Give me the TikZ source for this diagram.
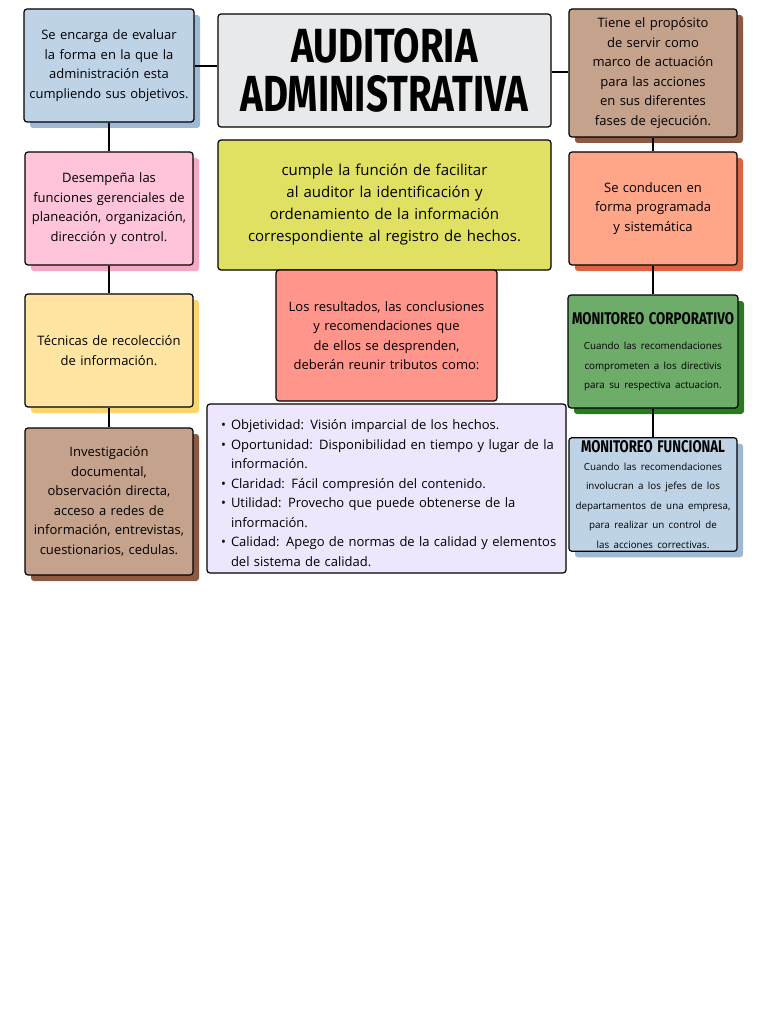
\documentclass[tikz,border=0pt]{standalone}
\usepackage{fontspec}
\setmainfont{Open Sans}
\newfontfamily\titlefont{Fira Sans}
\usepackage{enumitem}
\usetikzlibrary{shadows}
\hyphenpenalty=10000 \exhyphenpenalty=10000
\definecolor{cblue}{HTML}{BFD3E6}\definecolor{sblue}{HTML}{9DB9D4}
\definecolor{cpink}{HTML}{FFC4DA}\definecolor{spink}{HTML}{F5A9C6}
\definecolor{cyel}{HTML}{FFE5A1}\definecolor{syel}{HTML}{FAD46C}
\definecolor{ctan}{HTML}{C5A28B}\definecolor{stan}{HTML}{8C5A43}
\definecolor{cgrey}{HTML}{E8E9EB}
\definecolor{clime}{HTML}{E0E063}
\definecolor{csal}{HTML}{FF958B}
\definecolor{clav}{HTML}{EEE6FD}
\definecolor{cora}{HTML}{FFA588}\definecolor{sora}{HTML}{DD6441}
\definecolor{cgreen}{HTML}{6EAC6A}\definecolor{sgreen}{HTML}{2B7A23}
\tikzset{
 bx/.style={draw=black,line width=1.2pt,rounded corners=3pt,align=center,inner sep=3pt},
 sh/.style={drop shadow={shadow xshift=6pt,shadow yshift=-6pt,fill=#1,opacity=1}},
 ln/.style={line width=1.3pt},
}
\begin{document}
\begin{tikzpicture}[x=1pt,y=-1pt]
\useasboundingbox[fill=white] (0,0) rectangle (768,1024);
\fontsize{13}{19.5}\selectfont
% left column
\node[bx,sh=sblue,fill=cblue,minimum width=168pt,minimum height=113pt,text width=164pt] (l1) at (109,65.5)
 {Se encarga de evaluar la forma en la que la administración esta cumpliendo sus objetivos.};
\node[bx,sh=spink,fill=cpink,minimum width=168pt,minimum height=113pt,text width=156pt] (l2) at (109,208.5)
 {Desempeña las funciones gerenciales de planeación, organización, dirección y control.};
\node[bx,sh=syel,fill=cyel,minimum width=168pt,minimum height=113pt,text width=160pt] (l3) at (109,350.5)
 {Técnicas de recolección de información.\\[22pt]};
\node[bx,sh=stan,fill=ctan,minimum width=168pt,minimum height=147pt,text width=158pt] (l4) at (109,501.5)
 {Investigación documental, observación directa, acceso a redes de información, entrevistas, cuestionarios, cedulas.};
% center
\node[bx,fill=cgrey,minimum width=333pt,minimum height=113pt,font=\titlefont\bfseries] (t) at (384.5,70.5)
 {\resizebox{186pt}{34pt}{\bfseries AUDITORIA}\\[12pt]\resizebox{288pt}{36pt}{\bfseries ADMINISTRATIVA}};
\node[bx,fill=clime,minimum width=333pt,minimum height=130pt,text width=326pt,font=\fontsize{15}{22}\selectfont] (c1) at (384.5,205)
 {cumple la función de facilitar al auditor la identificación y ordenamiento de la información correspondiente al registro de hechos.};
\node[bx,fill=csal,minimum width=221pt,minimum height=131pt,text width=214pt] (c2) at (386.5,335.5)
 {Los resultados, las conclusiones y recomendaciones que de ellos se desprenden, deberán reunir tributos como:\\[22pt]};
\node[bx,fill=clav,minimum width=359pt,minimum height=169pt,text width=345pt,align=left] (c3) at (386.5,488.5)
 {\raggedright\begin{itemize}[leftmargin=17pt,itemsep=0pt,parsep=0pt,topsep=0pt,label=\textbullet]
 \item Objetividad: Visión imparcial de los hechos.
 \item Oportunidad: Disponibilidad en tiempo y lugar de la información.
 \item Claridad: Fácil compresión del contenido.
 \item Utilidad: Provecho que puede obtenerse de la información.
 \item Calidad: Apego de normas de la calidad y elementos del sistema de calidad.
 \end{itemize}};
% right
\node[bx,sh=stan,fill=ctan,minimum width=168pt,minimum height=128pt,text width=160pt] (r1) at (653,73)
 {Tiene el propósito de servir como marco de actuación para las acciones en sus diferentes fases de ejecución.};
\node[bx,sh=sora,fill=cora,minimum width=168pt,minimum height=113pt,text width=150pt] (r2) at (653,208.5)
 {Se conducen en forma programada \ y sistemática\\[8pt]};
\node[bx,sh=sgreen,fill=cgreen,minimum width=168pt,minimum height=113pt,text width=164pt] (r3) at (653,351.5)
 {{\titlefont\bfseries\resizebox{162pt}{12pt}{\bfseries MONITOREO CORPORATIVO}}\\[6pt]
 {\fontsize{9.8}{15}\selectfont Cuando las recomendaciones comprometen a los directivis para su respectiva actuacion.}\\[22pt]};
\node[bx,sh=sblue,fill=cblue,minimum width=168pt,minimum height=113pt,text width=158pt] (r4) at (653,494.5)
 {{\titlefont\bfseries\resizebox{144pt}{12pt}{\bfseries MONITOREO FUNCIONAL}}\\[-2pt]
 {\fontsize{9.8}{15}\selectfont Cuando las recomendaciones involucran a los jefes de los departamentos de una empresa, para realizar un control de las acciones correctivas.}};
% connectors
\draw[ln] (l1.east |- 0,66) -- (t.west |- 0,66);
\draw[ln] (t.east |- 0,72) -- (r1.west |- 0,72);
\draw[ln] (l1) -- (l2); \draw[ln] (l2) -- (l3); \draw[ln] (l3) -- (l4);
\draw[ln] (r1) -- (r2); \draw[ln] (r2) -- (r3); \draw[ln] (r3) -- (r4);
\end{tikzpicture}
\end{document}
